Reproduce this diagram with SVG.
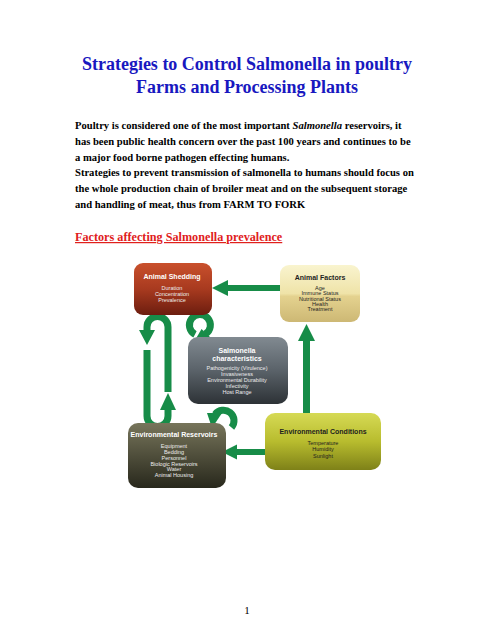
<svg xmlns="http://www.w3.org/2000/svg" width="495" height="640" viewBox="0 0 495 640">
<defs>
<linearGradient id="gShed" x1="0" y1="0" x2="0" y2="1"><stop offset="0" stop-color="#c9502c"/><stop offset="0.5" stop-color="#a83a1f"/><stop offset="1" stop-color="#6c1d0f"/></linearGradient>
<linearGradient id="gFact" x1="0" y1="0" x2="0" y2="1"><stop offset="0" stop-color="#f9f4cf"/><stop offset="0.5" stop-color="#efe3a8"/><stop offset="0.55" stop-color="#e4d28f"/><stop offset="1" stop-color="#cdb874"/></linearGradient>
<linearGradient id="gSalm" x1="0" y1="0" x2="0" y2="1"><stop offset="0" stop-color="#818a91"/><stop offset="0.5" stop-color="#5a6269"/><stop offset="1" stop-color="#2d3236"/></linearGradient>
<linearGradient id="gRes" x1="0" y1="0" x2="0" y2="1"><stop offset="0" stop-color="#77755b"/><stop offset="0.5" stop-color="#4f4e3b"/><stop offset="1" stop-color="#28281c"/></linearGradient>
<linearGradient id="gCond" x1="0" y1="0" x2="0" y2="1"><stop offset="0" stop-color="#d6da55"/><stop offset="0.5" stop-color="#b8bc2e"/><stop offset="1" stop-color="#7e8118"/></linearGradient>
</defs>
<style>
.title{font-family:"Liberation Serif",serif;font-weight:bold;font-size:18px;fill:#1818c0;text-anchor:middle}
.body{font-family:"Liberation Serif",serif;font-weight:bold;font-size:10.6px;fill:#000}
.head{font-family:"Liberation Serif",serif;font-weight:bold;font-size:12.2px;fill:#e0201c;text-decoration:underline}
.bt{font-family:"Liberation Sans",sans-serif;font-weight:bold;font-size:7px;text-anchor:middle}
.bi{font-family:"Liberation Sans",sans-serif;font-size:5.5px;text-anchor:middle}
.w{fill:#ffffff}
.wi{fill:#ececec}
.d{fill:#1e1e1e}
.arr{fill:#178c48}
.loop{fill:none;stroke:#178c48;stroke-width:7}
.pg{font-family:"Liberation Serif",serif;font-size:11px;fill:#000;text-anchor:middle}
</style>
<rect width="495" height="640" fill="#ffffff"/>
<text class="title" x="247" y="70">Strategies to Control Salmonella in poultry</text>
<text class="title" x="247" y="93">Farms and Processing Plants</text>
<text class="body" x="75" y="129">Poultry is considered one of the most important <tspan font-style="italic">Salmonella</tspan> reservoirs, it</text>
<text class="body" x="75" y="144.8">has been public health concern over the past 100 years and continues to be</text>
<text class="body" x="75" y="160.6">a major food borne pathogen effecting humans.</text>
<text class="body" x="75" y="176.4">Strategies to prevent transmission of salmonella to humans should focus on</text>
<text class="body" x="75" y="192.2">the whole production chain of broiler meat and on the subsequent storage</text>
<text class="body" x="75" y="208">and handling of meat, thus from FARM TO FORK</text>
<text class="head" x="75" y="241">Factors affecting Salmonella prevalence</text>

<g id="connectors">
<polygon class="arr" points="212,288 228,280 228,296"/>
<rect class="arr" x="227" y="285" width="57" height="6"/>
<polygon class="arr" points="306.5,324 298,341 315,341"/>
<rect class="arr" x="303" y="340" width="7" height="82"/>
<polygon class="arr" points="222,452 237,444.5 237,459.5"/>
<rect class="arr" x="236" y="449" width="38" height="6"/>
<path class="loop" d="M168,392 V327 A10.5,10.5 0 0 0 147,327 V331"/>
<polygon class="arr" points="147,345 139,330 155,330"/>
<path class="loop" d="M147,350 V416 A10.5,10.5 0 0 0 168,416 V409"/>
<polygon class="arr" points="168,393 160,410 176,410"/>
<path class="loop" d="M195,334.4 A10.5,10.5 0 1 1 205.3,334.1"/>
<polygon class="arr" points="194,342 201.5,329 211,338"/>
<path class="loop" d="M231.5,427.5 A10.5,10.5 0 1 0 215.1,414.4"/>
<polygon class="arr" points="212,428 207,413 222,413"/>
</g>

<g id="animal-shedding">
<rect x="134" y="263" width="78" height="52" rx="9" fill="url(#gShed)"/>
<text class="bt w" x="172" y="279">Animal Shedding</text>
<text class="bi wi" x="172" y="290">Duration</text>
<text class="bi wi" x="172" y="296">Concentration</text>
<text class="bi wi" x="172" y="302">Prevalence</text>
</g>

<g id="animal-factors">
<rect x="280" y="265" width="80" height="57" rx="9" fill="url(#gFact)"/>
<text class="bt d" x="320" y="280">Animal Factors</text>
<text class="bi d" x="320" y="290">Age</text>
<text class="bi d" x="320" y="295.3">Immune Status</text>
<text class="bi d" x="320" y="300.6">Nutritional Status</text>
<text class="bi d" x="320" y="305.9">Health</text>
<text class="bi d" x="320" y="311.2">Treatment</text>
</g>

<g id="salmonella-characteristics">
<rect x="188" y="337" width="100" height="67" rx="10" fill="url(#gSalm)"/>
<text class="bt w" x="237" y="353">Salmonella</text>
<text class="bt w" x="237" y="360.5">characteristics</text>
<text class="bi wi" x="237" y="370">Pathogenicity (Virulence)</text>
<text class="bi wi" x="237" y="376">Invasiveness</text>
<text class="bi wi" x="237" y="382">Environmental Durability</text>
<text class="bi wi" x="237" y="388">Infectivity</text>
<text class="bi wi" x="237" y="394">Host Range</text>
</g>

<g id="environmental-reservoirs">
<rect x="128" y="423" width="98" height="65" rx="10" fill="url(#gRes)"/>
<text class="bt w" x="174" y="437">Environmental Reservoirs</text>
<text class="bi wi" x="174" y="448">Equipment</text>
<text class="bi wi" x="174" y="454">Bedding</text>
<text class="bi wi" x="174" y="459.5">Personnel</text>
<text class="bi wi" x="174" y="465.5">Biologic Reservoirs</text>
<text class="bi wi" x="174" y="471">Water</text>
<text class="bi wi" x="174" y="477">Animal Housing</text>
</g>

<g id="environmental-conditions">
<rect x="265" y="413" width="116" height="57" rx="10" fill="url(#gCond)"/>
<text class="bt d" x="323" y="434">Environmental Conditions</text>
<text class="bi d" x="323" y="445">Temperature</text>
<text class="bi d" x="323" y="451">Humidity</text>
<text class="bi d" x="323" y="457.5">Sunlight</text>
</g>

<text class="pg" x="247" y="614">1</text>
</svg>
